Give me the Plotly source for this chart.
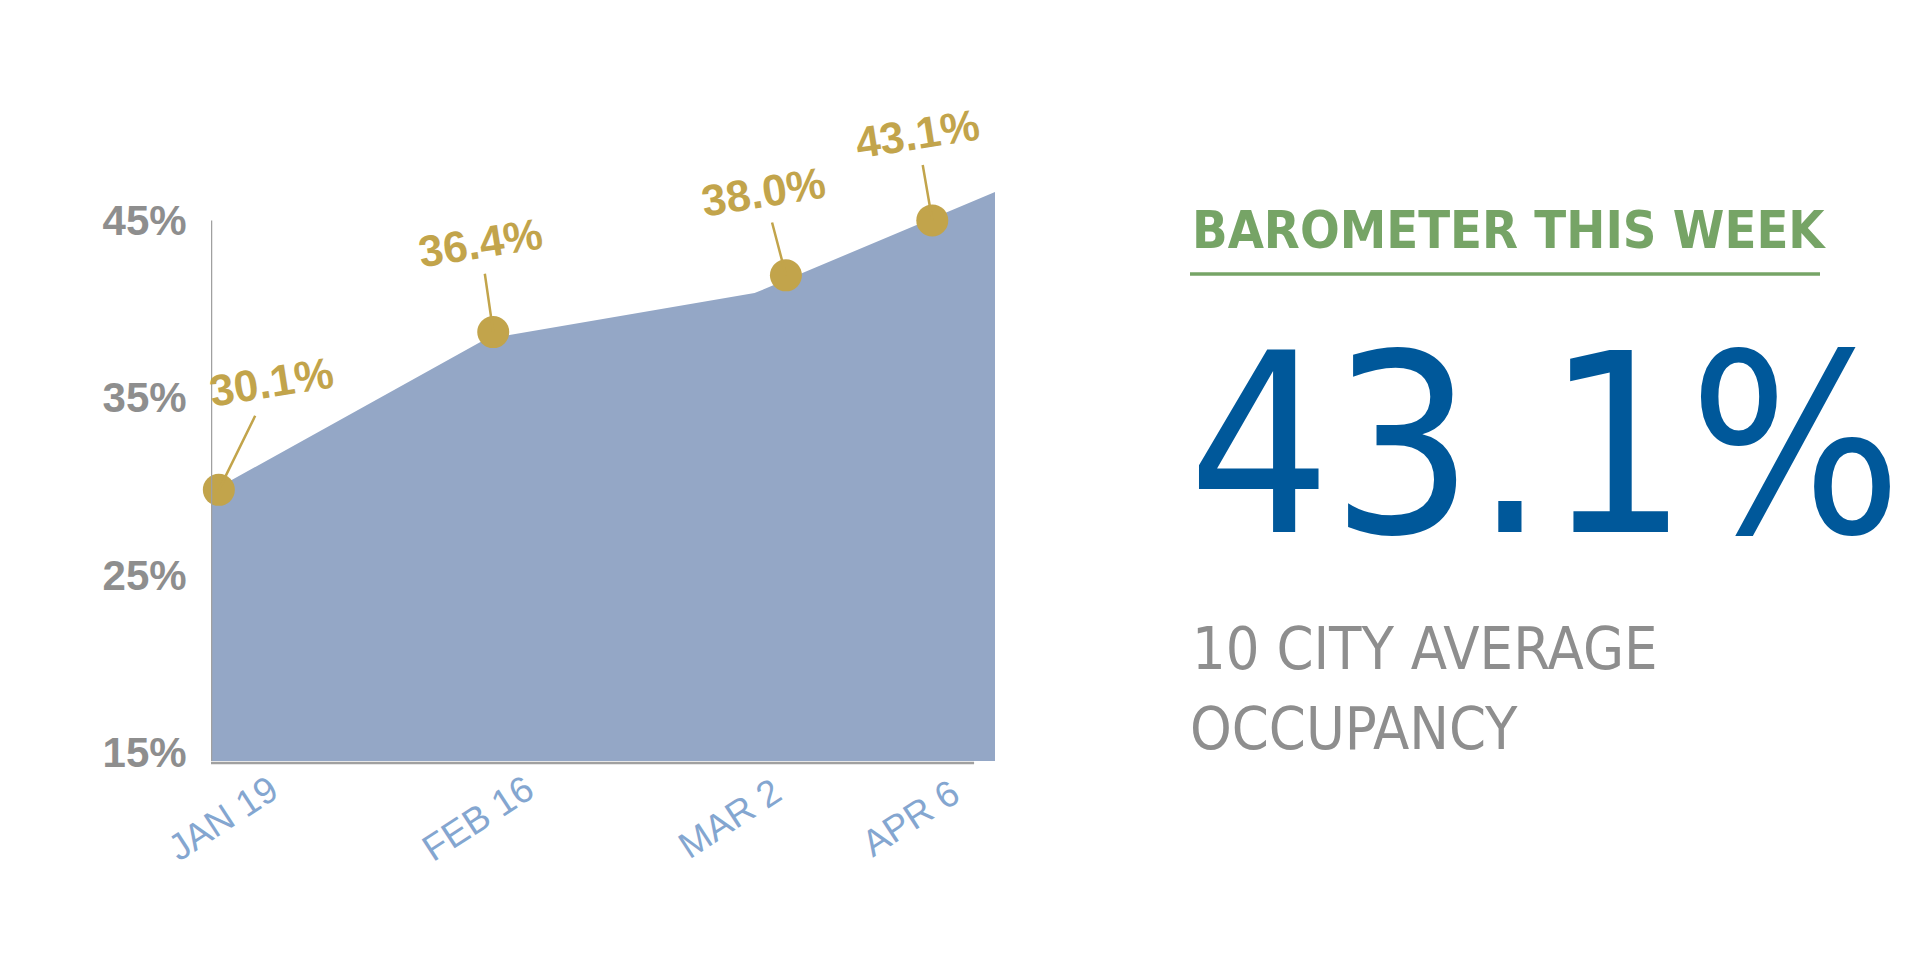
import plotly.graph_objects as go

# area outline
area_x = [0, 1.05, 2.08, 3]
area_y = [29.7, 38.3, 40.9, 46.6]

# dots and their printed labels
dot_x = [0.03, 1.08, 2.2, 2.76]
dot_y = [29.8, 38.7, 41.9, 45.0]
dot_text = ["30.1%", "36.4%", "38.0%", "43.1%"]
dot_ax = [53, -13, -22, -15]
dot_ay = [-108, -90, -84, -87]

dates = ["JAN 19", "FEB 16", "MAR 2", "APR 6"]
date_x = [0.045, 1.02, 1.985, 2.675]

yticks = [15, 25, 35, 45]
ylabels = ["15%", "25%", "35%", "45%"]

GOLD = "#c2a44b"
AREA = "#94a7c6"
GREEN = "#76a466"
BLUE = "#00589a"
GRAY = "#8e8e8e"
COND = "DejaVu Sans Condensed, DejaVu Sans"

W, H = 1920, 980
L, R, T, B = 203, 933, 60, 227
pw, ph = W - L - R, H - T - B


def px(x):
    return (x - L) / pw


def py(y):
    return (H - B - y) / ph


fig = go.Figure()
fig.add_trace(go.Scatter(x=area_x, y=area_y, mode="lines", fill="tozeroy",
                         fillcolor=AREA, line=dict(width=0, color=AREA),
                         hoverinfo="skip"))
fig.add_trace(go.Scatter(x=dot_x, y=dot_y, mode="markers", cliponaxis=False,
                         marker=dict(size=32, color=GOLD)))

anns = []
for x, y, t, ax, ay in zip(dot_x, dot_y, dot_text, dot_ax, dot_ay):
    anns.append(dict(x=x, y=y, xref="x", yref="y", text=t, showarrow=True,
                     ax=ax, ay=ay, arrowhead=0, arrowwidth=2.5, arrowcolor=GOLD,
                     standoff=0, startstandoff=6, textangle=-9,
                     font=dict(family="Liberation Sans", size=44, color=GOLD,
                               weight="bold")))

for x, t in zip(date_x, dates):
    anns.append(dict(x=x, y=py(810), xref="x", yref="paper", text=t,
                     showarrow=False, textangle=-33, xanchor="center",
                     yanchor="middle",
                     font=dict(family="Liberation Sans", size=37, color="#84a6d0")))

# right hand panel
anns.append(dict(x=px(1182), y=py(222), xref="paper", yref="paper",
                 text="BAROMETER THIS WEEK", showarrow=False, xanchor="left",
                 yanchor="middle",
                 font=dict(family=COND, size=52, color=GREEN, weight="bold")))
anns.append(dict(x=px(1178), y=py(437), xref="paper", yref="paper",
                 text="43.1%", showarrow=False, xanchor="left", yanchor="middle",
                 font=dict(family=COND, size=250, color=BLUE)))
anns.append(dict(x=px(1182), y=py(640), xref="paper", yref="paper",
                 text="10 CITY AVERAGE", showarrow=False, xanchor="left",
                 yanchor="middle",
                 font=dict(family=COND, size=59, color=GRAY)))
anns.append(dict(x=px(1180), y=py(720), xref="paper", yref="paper",
                 text="OCCUPANCY", showarrow=False, xanchor="left",
                 yanchor="middle",
                 font=dict(family=COND, size=59, color=GRAY)))

shapes = [
    # y axis line
    dict(type="line", xref="x", yref="y", x0=0, x1=0, y0=14.5, y1=45,
         line=dict(color="#a0a0a0", width=2.5)),
    # x axis line
    dict(type="line", xref="x", yref="paper", x0=0, x1=2.92, y0=-0.003, y1=-0.003,
         line=dict(color="#a0a0a0", width=2.5)),
    # green rule under the heading
    dict(type="line", xref="paper", yref="paper", x0=px(1182), x1=px(1812),
         y0=py(266), y1=py(266), line=dict(color=GREEN, width=3.5)),
]

fig.update_layout(
    width=W, height=H,
    margin=dict(l=L, r=R, t=T, b=B),
    paper_bgcolor="white", plot_bgcolor="white",
    showlegend=False,
    annotations=anns,
    shapes=shapes,
    xaxis=dict(range=[0, 3], showgrid=False, zeroline=False, showline=False,
               showticklabels=False, ticks=""),
    yaxis=dict(range=[14.5, 53.6], showgrid=False, zeroline=False, showline=False,
               tickvals=yticks, ticktext=ylabels, ticks="outside", ticklen=15,
               tickcolor="rgba(0,0,0,0)",
               tickfont=dict(family="Liberation Sans", size=42, color=GRAY,
                             weight="bold")),
)

fig.write_html("out.html")
